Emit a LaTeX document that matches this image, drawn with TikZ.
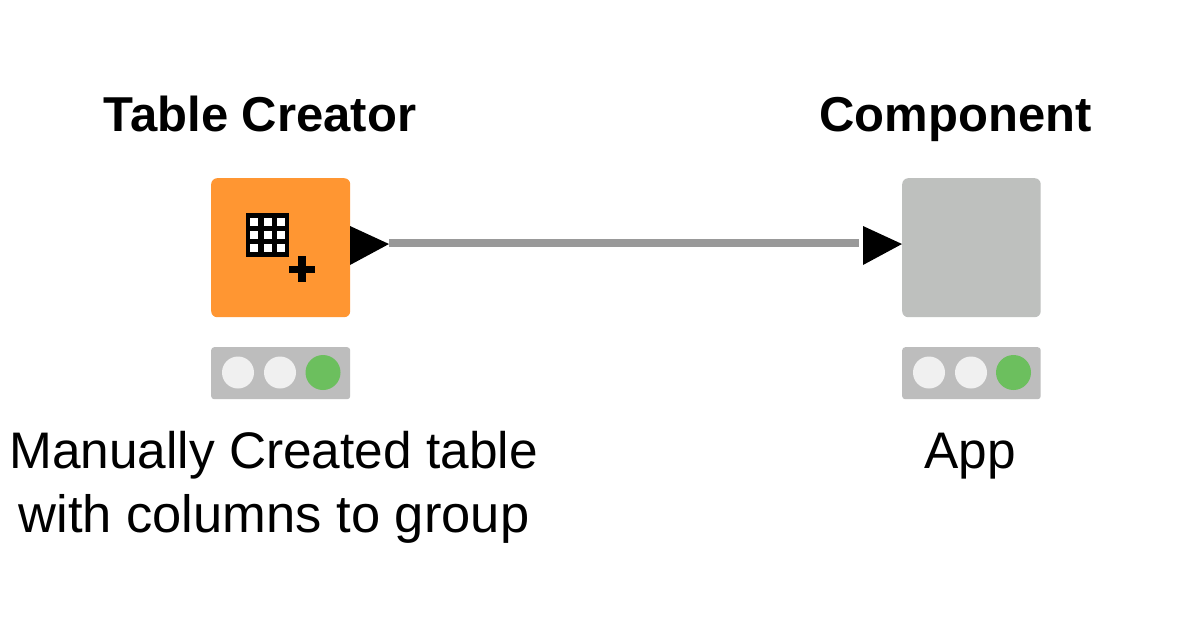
\documentclass[tikz,border=0pt]{standalone}
\usepackage{fontspec}
\setmainfont{Liberation Sans}
\definecolor{nodeorange}{HTML}{FF9632}
\definecolor{nodegrey}{HTML}{BEC0BE}
\definecolor{barfill}{HTML}{BDBDBD}
\definecolor{lampoff}{HTML}{F0F0F0}
\definecolor{lampgreen}{HTML}{6CBF5E}
\definecolor{wire}{HTML}{999999}
\tikzset{
  body/.style={rounded corners=6pt,minimum width=139pt,minimum height=139pt,inner sep=0pt,anchor=north west},
  statusbar/.style={fill=barfill,rounded corners=3pt,minimum width=139pt,minimum height=52pt,inner sep=0pt,anchor=north west},
  lampoffs/.style={circle,fill=lampoff,minimum size=32pt,inner sep=0pt},
  lampon/.style={circle,fill=lampgreen,minimum size=35pt,inner sep=0pt},
  port/.style={fill=black},
  wireline/.style={draw=wire,line width=8pt},
  titletext/.style={font=\fontsize{49}{56}\selectfont\bfseries,inner sep=0pt,anchor=base},
  labeltext/.style={font=\fontsize{51.4}{64}\selectfont,inner sep=0pt,anchor=base}
}
\begin{document}
\begin{tikzpicture}[x=1pt,y=-1pt]
\useasboundingbox (0,0) rectangle (1200,630);
\fill[white] (0,0) rectangle (1200,630);
% nodes
\node[body,fill=nodeorange] (tc) at (211,178) {};
\node[body,fill=nodegrey,minimum width=138.5pt] (comp) at (902,178) {};
\node[statusbar] (tcbar) at (211,347) {};
\node[statusbar,minimum width=138.5pt] (compbar) at (902,347) {};
% lamps
\node[lampoffs] (t1) at (238,372.5) {};
\node[lampoffs] (t2) at (280,372.5) {};
\node[lampon] (t3) at (323,372.5) {};
\node[lampoffs] (c1) at (929,372.5) {};
\node[lampoffs] (c2) at (971,372.5) {};
\node[lampon] (c3) at (1013.5,372.5) {};
% icon
\fill[black] (246,213) rectangle (289,257);
\foreach \i in {0,1,2}{\foreach \j in {0,1,2}{
  \fill[white] (250+\i*13.5,218+\j*13.2) rectangle (258+\i*13.5,226+\j*13.2);}}
\fill[black] (289,265.5) rectangle (315,273);
\fill[black] (298,256) rectangle (306,282);
% ports
\fill[port] (350,226) -- (350,265) -- (389,244) -- cycle;
\coordinate (outtip) at (389,243);
\fill[port] (863,226) -- (863,265) -- (902,244) -- cycle;
\coordinate (inbase) at (859,243);
\draw[wireline] (outtip) -- (inbase);
% text
\node[titletext] (tctitle) at (260,131) {Table Creator};
\node[titletext] (comptitle) at (955.5,131) {Component};
\node[labeltext] (tclabel) at (273.5,468.5) {Manually Created table};
\node[labeltext,font=\fontsize{52.5}{64}\selectfont] (tclabelb) at (274,532.5) {with columns to group};
\node[labeltext] (complabel) at (970,468.5) {App};
\end{tikzpicture}
\end{document}
